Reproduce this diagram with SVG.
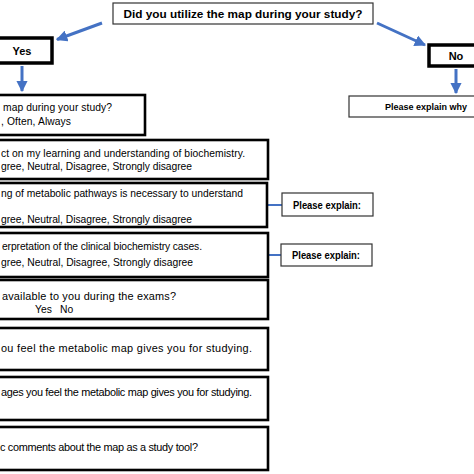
<svg xmlns="http://www.w3.org/2000/svg" width="474" height="474" viewBox="0 0 474 474">
<style>
text{font-family:"Liberation Sans",Arial,sans-serif;fill:#000}
.b{font-weight:bold;font-size:11px}
.q{font-size:10.3px}
.q2{font-size:10.9px}
.sm{font-weight:bold;font-size:10px}
.thin{fill:#fff;stroke:#333;stroke-width:1.2}
.thick{fill:#fff;stroke:#000;stroke-width:2.6}
.heavy{fill:#fff;stroke:#000;stroke-width:3.5}
.arr{stroke:#4472C4;stroke-width:3;fill:none}
.con{stroke:#4472C4;stroke-width:2;fill:none}
</style>
<defs>
<marker id="ah" viewBox="0 0 10 10" refX="9" refY="5" markerWidth="3.8" markerHeight="3.8" orient="auto" markerUnits="strokeWidth">
<path d="M0,0 L10,5 L0,10 z" fill="#4472C4"/>
</marker>
</defs>
<rect width="474" height="474" fill="#fff"/>
<g id="connectors">
<line class="arr" x1="102" y1="23" x2="57" y2="39.5" marker-end="url(#ah)"/>
<line class="arr" x1="377" y1="23" x2="425" y2="45" marker-end="url(#ah)"/>
<line class="arr" x1="22" y1="66" x2="22" y2="91" marker-end="url(#ah)"/>
<line class="arr" x1="456" y1="69" x2="456" y2="93" marker-end="url(#ah)"/>
<line class="con" x1="268" y1="205" x2="282" y2="205"/>
<line class="con" x1="268" y1="255" x2="281" y2="255"/>
</g>
<g id="top">
<rect class="thin" x="113" y="3" width="260" height="21"/>
<text class="b" x="243" y="18" text-anchor="middle" textLength="239" lengthAdjust="spacingAndGlyphs">Did you utilize the map during your study?</text>
</g>
<g id="yes">
<rect class="heavy" x="-5" y="38" width="57" height="25"/>
<text class="b" x="22" y="55" text-anchor="middle">Yes</text>
</g>
<g id="no">
<rect class="heavy" x="429" y="45" width="50" height="21"/>
<text class="b" x="456" y="60" text-anchor="middle">No</text>
</g>
<g id="why">
<rect class="thin" x="349" y="96" width="130" height="21"/>
<text x="385" y="110" style="font-weight:bold;font-size:9px">Please explain why</text>
</g>
<g id="q1">
<rect class="thick" x="-5" y="95" width="150" height="40"/>
<text class="q" x="3" y="111" textLength="109" lengthAdjust="spacing">map during your study?</text>
<text class="q" x="1" y="125" textLength="70" lengthAdjust="spacing">, Often, Always</text>
</g>
<g id="q2">
<rect class="thick" x="-5" y="140" width="273" height="39"/>
<text class="q" x="1" y="157" textLength="244" lengthAdjust="spacing">ct on my learning and understanding of biochemistry.</text>
<text class="q" x="1" y="170" textLength="191" lengthAdjust="spacing">gree, Neutral, Disagree, Strongly disagree</text>
</g>
<g id="q3">
<rect class="thick" x="-5" y="183" width="272" height="44"/>
<text class="q" x="1" y="197" textLength="242" lengthAdjust="spacing">ng of metabolic pathways is necessary to understand</text>
<text class="q" x="1" y="223" textLength="191" lengthAdjust="spacing">gree, Neutral, Disagree, Strongly disagree</text>
</g>
<g id="explain1">
<rect class="thin" x="282" y="193" width="91" height="23"/>
<text class="sm" x="327" y="209" text-anchor="middle" textLength="68" lengthAdjust="spacingAndGlyphs">Please explain:</text>
</g>
<g id="q4">
<rect class="thick" x="-5" y="233" width="273" height="44"/>
<text class="q" x="2" y="250" textLength="200" lengthAdjust="spacing">erpretation of the clinical biochemistry cases.</text>
<text class="q" x="1" y="266" textLength="192" lengthAdjust="spacing">gree, Neutral, Disagree, Strongly disagree</text>
</g>
<g id="explain2">
<rect class="thin" x="281" y="244" width="91" height="22"/>
<text class="sm" x="326" y="259" text-anchor="middle" textLength="68" lengthAdjust="spacingAndGlyphs">Please explain:</text>
</g>
<g id="q5">
<rect class="thick" x="-5" y="280" width="273" height="39"/>
<text class="q2" x="2" y="300" textLength="174" lengthAdjust="spacing">available to you during the exams?</text>
<text class="q" x="35" y="313">Yes</text>
<text class="q" x="60" y="313">No</text>
</g>
<g id="q6">
<rect class="thick" x="-5" y="328" width="273" height="42"/>
<text class="q2" x="1" y="352" textLength="251" lengthAdjust="spacing">ou feel the metabolic map gives you for studying.</text>
</g>
<g id="q7">
<rect class="thick" x="-5" y="377" width="273" height="43"/>
<text class="q2" x="1" y="396" textLength="251" lengthAdjust="spacing">ages you feel the metabolic map gives you for studying.</text>
</g>
<g id="q8">
<rect class="thick" x="-5" y="427" width="273" height="43"/>
<text class="q2" x="0" y="451" textLength="198" lengthAdjust="spacing">c comments about the map as a study tool?</text>
</g>
</svg>
